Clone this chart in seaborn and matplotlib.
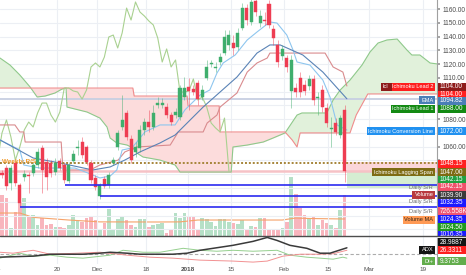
import numpy as np
import pandas as pd
import matplotlib
matplotlib.use("Agg")
import matplotlib.pyplot as plt
from matplotlib.patches import Rectangle
import seaborn as sns

# ---------------- data ----------------
opens = [1040.9, 1044.5, 1033.6, 1048.2, 1032.2, 1038.0, 1039.5, 1040.9, 1046.7, 1059.1,
         1048.9, 1048.2, 1041.6, 1049.6, 1046.7, 1035.1, 1049.6, 1059.1, 1063.4, 1059.8,
         1048.2, 1037.3, 1024.2, 1036.6, 1032.2, 1048.2, 1059.8, 1074.3, 1084.5, 1065.6,
         1056.2, 1059.1, 1072.1, 1077.9, 1074.3, 1090.3, 1090.3, 1088.8, 1083.0, 1083.0,
         1081.6, 1096.1, 1103.4, 1101.9, 1106.3, 1096.1, 1109.9, 1120.1, 1117.2, 1121.5,
         1128.0, 1133.9, 1135.3, 1132.4, 1146.2, 1160.7, 1150.6, 1165.5, 1149.8, 1152.0,
         1163.6, 1145.5, 1133.9, 1125.9, 1124.4, 1100.5, 1102.6, 1109.9, 1104.8, 1104.1,
         1109.2, 1095.4, 1101.2, 1088.1, 1072.9, 1077.2, 1068.5, 1086.7]
closes = [1039.5, 1031.5, 1044.5, 1033.6, 1019.1, 1040.2, 1038.7, 1046.7, 1056.2, 1043.1,
          1038.0, 1040.9, 1048.2, 1044.5, 1035.8, 1046.7, 1054.7, 1059.8, 1054.0, 1048.9,
          1035.8, 1030.7, 1032.2, 1031.5, 1039.5, 1050.3, 1070.0, 1079.4, 1067.1, 1050.3,
          1059.8, 1072.1, 1077.9, 1074.3, 1084.5, 1091.7, 1091.7, 1083.0, 1077.9, 1085.2,
          1102.6, 1102.6, 1100.5, 1099.7, 1094.6, 1101.2, 1117.9, 1120.8, 1117.9, 1125.1,
          1139.7, 1141.1, 1131.7, 1142.6, 1160.7, 1152.0, 1165.1, 1157.8, 1154.9, 1151.3,
          1148.4, 1138.9, 1121.5, 1131.0, 1117.9, 1123.0, 1099.7, 1099.7, 1100.5, 1109.2,
          1093.9, 1096.1, 1088.8, 1077.2, 1073.6, 1070.7, 1080.8, 1042.15]
highs = [1043.1, 1046.7, 1046.7, 1050.3, 1033.6, 1043.1, 1041.6, 1048.9, 1059.1, 1061.2,
         1051.8, 1050.3, 1051.8, 1051.8, 1048.9, 1048.9, 1057.6, 1064.9, 1067.1, 1061.2,
         1050.3, 1039.5, 1033.6, 1038.7, 1041.6, 1052.5, 1072.1, 1097.5, 1086.7, 1068.5,
         1063.4, 1075.8, 1080.8, 1086.7, 1090.3, 1096.1, 1095.4, 1091.7, 1085.2, 1088.1,
         1104.8, 1110.6, 1109.9, 1104.8, 1108.4, 1104.8, 1123.0, 1123.0, 1121.5, 1128.0,
         1144.8, 1144.8, 1141.1, 1146.2, 1164.4, 1163.6, 1167.5, 1168.0, 1159.3, 1157.8,
         1166.5, 1148.4, 1137.5, 1133.9, 1126.6, 1126.6, 1106.3, 1114.2, 1108.4, 1112.1,
         1112.1, 1099.7, 1104.8, 1091.7, 1081.6, 1080.8, 1083.0, 1090.3]
lows = [1037.3, 1028.6, 1028.6, 1031.5, 1016.9, 1035.0, 1026.4, 1038.7, 1044.5, 1026.4,
        1028.6, 1038.0, 1039.5, 1043.1, 1033.6, 1033.6, 1048.2, 1054.0, 1051.8, 1046.7,
        1033.6, 1028.6, 1022.0, 1030.0, 1030.0, 1046.7, 1057.6, 1072.1, 1064.9, 1048.2,
        1052.5, 1056.2, 1068.5, 1070.7, 1072.1, 1088.1, 1088.1, 1080.8, 1075.8, 1080.8,
        1079.4, 1093.9, 1086.7, 1097.5, 1090.3, 1093.9, 1108.4, 1117.9, 1114.2, 1119.3,
        1126.6, 1130.2, 1126.6, 1130.2, 1144.8, 1148.4, 1148.4, 1154.9, 1146.9, 1148.4,
        1146.2, 1133.9, 1117.9, 1123.0, 1114.2, 1088.1, 1096.1, 1096.1, 1097.5, 1101.2,
        1090.3, 1083.0, 1085.2, 1074.3, 1059.8, 1068.5, 1066.3, 1034.4]
volumes_k = [726, 673, 142, 425, 602, 673, 336, 372, 195, 319,
             195, 212, 159, 159, 142, 195, 372, 283, 248, 319,
             336, 283, 106, 230, 478, 124, 301, 336, 283, 195,
             159, 301, 301, 159, 195, 212, 230, 53, 106, 407,
             319, 407, 336, 354, 124, 319, 301, 248, 177, 301,
             301, 248, 230, 212, 283, 124, 177, 159, 319, 319,
             124, 106, 106, 142, 248, 1045, 743, 496, 372, 319,
             336, 195, 283, 230, 195, 142, 460, 726.558]
vol_ma_x = [-1, 4, 7, 15, 22, 35, 40, 44, 63, 66, 69, 77]
vol_ma = [407, 407, 330, 283, 250, 248, 250, 283, 283, 319, 310, 301]

lead_a_x = [-0.45, 1.8, 4.0, 6.3, 7.9, 9.7, 11.9, 13.5, 14.4, 14.6, 19.1, 22.0, 23.6, 24.3, 25.8,
            28.1, 29.4, 30.3, 31.7, 35.5, 38.9, 40.0, 51.5, 51.9, 55.1, 58.7, 60.9, 63.6, 66.3, 67.4,
            73.0, 74.4, 76.0, 78.2, 80.9, 82.7, 84.5, 86.5, 88.8, 91.0, 92.1, 93.9, 96.2, 97.8]
lead_a = [1124.4, 1119.3, 1112.1, 1103.4, 1096.1, 1096.8, 1099.0, 1101.9, 1102.6, 1088.8, 1085.2,
          1080.8, 1074.3, 1066.3, 1062.7, 1061.2, 1059.1, 1055.4, 1052.5, 1050.3, 1046.7, 1041.6,
          1041.6, 1059.8, 1061.2, 1063.4, 1066.3, 1070.0, 1083.0, 1084.5, 1084.5, 1093.9, 1101.2,
          1108.4, 1119.3, 1128.8, 1135.3, 1137.5, 1138.2, 1130.2, 1126.6, 1126.6, 1120.8, 1120.1]
lead_b_x = [-0.45, 29.4, 29.7, 41.6, 41.8, 48.8, 49.0, 63.6, 65.2, 66.3, 67.0, 78.2, 79.6, 82.2, 97.8]
lead_b = [1102.6, 1102.6, 1096.8, 1096.8, 1089.6, 1089.6, 1070.7, 1070.7, 1064.9, 1059.8, 1070.0,
          1070.0, 1083.0, 1098.3, 1098.3]
kijun_x = [-0.45, 2.9, 4.0, 4.9, 5.2, 13.3, 13.7, 19.8, 22.0, 26.1, 27.6, 30.3, 37.8, 39.6, 45.2,
           46.1, 48.3, 49.0, 52.8, 55.1, 57.3, 59.6, 60.2, 72.6, 74.4, 76.6, 77.5]
kijun = [1075.8, 1075.8, 1070.7, 1070.7, 1063.4, 1063.4, 1043.1, 1043.1, 1046.7, 1050.3, 1056.2,
         1059.8, 1061.2, 1070.7, 1070.7, 1077.2, 1083.0, 1088.8, 1099.0, 1114.2, 1120.8, 1124.4,
         1128.0, 1128.0, 1117.9, 1114.2, 1104.1]
tenkan_x = [-0.45, 4.0, 4.9, 8.5, 16.4, 19.3, 22.0, 24.3, 25.8, 27.0, 29.2, 32.1, 35.5, 38.9, 41.1,
            44.5, 46.7, 48.3, 49.7, 52.4, 55.1, 57.3, 60.2, 61.8, 64.0, 65.4, 66.3, 69.2, 72.1, 73.7,
            75.3, 77.5]
tenkan = [1064.9, 1057.6, 1046.7, 1044.5, 1044.5, 1040.9, 1037.3, 1038.7, 1043.1, 1057.6, 1059.1,
          1070.7, 1075.8, 1075.8, 1086.7, 1097.5, 1101.2, 1113.5, 1120.8, 1126.6, 1137.5, 1143.3,
          1150.6, 1149.8, 1141.1, 1130.2, 1121.5, 1119.3, 1108.4, 1096.1, 1075.8, 1072.1]
ema_x = [-0.45, 7.0, 13.0, 20.4, 24.3, 27.6, 31.0, 35.5, 38.9, 45.2, 52.8, 57.3, 60.2, 62.5, 67.6, 72.1, 77.5]
ema = [1064.9, 1051.8, 1048.2, 1043.1, 1045.3, 1050.3, 1056.2, 1062.7, 1068.5, 1088.8, 1110.6,
       1128.0, 1133.9, 1133.9, 1126.6, 1114.2, 1094.8]

adx_x = [-0.45, 7.0, 10.8, 18.2, 22.0, 24.3, 28.1, 31.0, 38.4, 41.6, 44.5, 51.9, 56.4, 59.6, 61.8,
         64.7, 68.5, 71.5, 73.7, 77.5]
adx = [14.3, 15.9, 18.9, 18.9, 20.5, 22.0, 20.5, 18.9, 18.9, 20.5, 25.1, 32.9, 39.1, 45.3, 40.6,
       32.9, 28.2, 20.5, 20.5, 28.99]
di_plus_x = [-0.45, 4.0, 7.0, 10.8, 14.6, 18.2, 24.3, 27.2, 31.7, 35.5, 40.7, 44.5, 48.3, 51.9,
             56.4, 61.8, 64.7, 68.5, 71.5, 74.4, 76.6, 77.5]
di_plus = [12.7, 20.5, 15.8, 17.4, 14.2, 12.7, 17.4, 25.1, 22.0, 22.0, 28.2, 25.1, 23.6, 25.1,
           23.6, 25.1, 17.4, 14.2, 12.7, 11.1, 14.2, 12.7]
di_minus_x = [-0.45, 2.5, 7.0, 10.8, 16.9, 22.0, 28.1, 33.3, 38.4, 44.5, 51.9, 56.4, 59.6, 63.1,
              67.0, 71.5, 74.4, 77.5]
di_minus = [22.0, 20.5, 25.1, 18.9, 20.5, 22.0, 17.4, 14.2, 12.7, 9.6, 8.1, 6.5, 8.1, 15.8,
            18.9, 18.9, 19.7, 25.1]
adx_level = 20

ema_last = 1094.82
weekly_rs = 1048.15
last_close = 1042.15
sr_levels = [1032.35, 1024.35, 1016.35]
sr_start = [14.2, 22.0, 4.0]
pos_stop, pos_entry, pos_target, pos_start = 1048.9, 1041.6, 1030.0, 77.6

tick_pos = [12.36, 21.35, 32.36, 41.8, 51.46, 63.37, 73.26, 82.47, 94.61]
tick_lab = ["20", "Dec", "18", "2018", "15", "Feb", "15", "Mar", "19"]
price_ticks = list(range(1000, 1170, 10))
shown_prices = {1060, 1080, 1110, 1120, 1130, 1140, 1150, 1160}

# ---------------- style ----------------
sns.set_theme(style="white")
plt.rcParams["font.family"] = ["Liberation Sans", "DejaVu Sans"]

W, H = 466, 275
PW = 437
XLIM = (-0.45, 97.75)
YLIM = (995.15, 1166.54)
GREEN, RED = "#3fae6d", "#ee3d52"
GRID = "#eceff4"

fig = plt.figure(figsize=(W / 100, H / 100), dpi=100, facecolor="white")
ax = fig.add_axes([0, (H - 236) / H, PW / W, 236 / H])
axv = ax.twinx()
axadx = fig.add_axes([0, (H - 264) / H, PW / W, 27 / H])
ax.set_zorder(3)
axv.set_zorder(2)
ax.patch.set_visible(False)
axv.patch.set_visible(False)

o = np.array(opens); c = np.array(closes); hi = np.array(highs); lo = np.array(lows)
idx = np.arange(len(o))
up = c >= o
cols = np.where(up, GREEN, RED)

# volume (own scale, overlaid at the bottom of the price pane)
axv.bar(idx, volumes_k, width=0.82, color=cols, alpha=0.38, linewidth=0)
sns.lineplot(x=vol_ma_x, y=vol_ma, ax=axv, color="#f5a36a", lw=0.8, sort=False, estimator=None)
axv.set_ylim(0, 4180)
axv.set_yticks([])
axv.set_ylabel("")
for s in axv.spines.values():
    s.set_visible(False)

# cloud
gx = np.linspace(XLIM[0], XLIM[1], 3000)
ga = np.interp(gx, lead_a_x, lead_a)
gb = np.interp(gx, lead_b_x, lead_b)
ax.fill_between(gx, ga, gb, where=ga >= gb, interpolate=True, color="#e1f1db", lw=0, zorder=1)
ax.fill_between(gx, ga, gb, where=ga < gb, interpolate=True, color="#fcdcdc", lw=0, zorder=1)

# position tool
ax.add_patch(Rectangle((pos_start, pos_entry), XLIM[1] - pos_start + 1, pos_stop - pos_entry,
                       facecolor="#fbd6d9", edgecolor="none", zorder=1.2))
ax.add_patch(Rectangle((pos_start, pos_target), XLIM[1] - pos_start + 1, pos_entry - pos_target,
                       facecolor="#d5edd2", edgecolor="none", zorder=1.2))

# horizontal price lines
ax.axhline(ema_last, color="#c7cfe2", lw=1.3, zorder=2)
ax.axhline(last_close, color="#f6c2c6", lw=1.8, zorder=2)
ax.axhline(weekly_rs, color="#a6853a", lw=1.4, ls=(0, (1, 1)), zorder=3.5)

# indicator lines
line_kw = dict(ax=ax, sort=False, estimator=None)
sns.lineplot(x=lead_a_x, y=lead_a, color="#8fc98b", lw=0.8, zorder=2.2, **line_kw)
sns.lineplot(x=lead_b_x, y=lead_b, color="#f08c8c", lw=0.8, zorder=2.2, **line_kw)
sns.lineplot(x=idx - 26, y=closes, color="#a9d190", lw=0.8, zorder=2.4, **line_kw)
sns.lineplot(x=kijun_x, y=kijun, color="#d98b8e", lw=0.8, zorder=2.6, **line_kw)
sns.lineplot(x=tenkan_x, y=tenkan, color="#8ec6ef", lw=0.8, zorder=2.7, **line_kw)
sns.lineplot(x=ema_x, y=ema, color="#5a83b6", lw=0.8, zorder=2.8, **line_kw)

# candles
ax.vlines(idx, lo, hi, colors=cols, lw=0.6, alpha=0.55, zorder=4)
ax.bar(idx, np.abs(c - o), bottom=np.minimum(o, c), width=0.68, color=cols,
       edgecolor=cols, linewidth=0.3, zorder=5)

# daily S/R
ax.hlines(sr_levels, sr_start, XLIM[1] + 1, colors="#2b2bf0", lw=1.2, zorder=6)

ax.set_xlim(*XLIM)
ax.set_ylim(*YLIM)
ax.set_xlabel(""); ax.set_ylabel("")
ax.set_xticks(tick_pos)
ax.set_yticks(price_ticks)
ax.yaxis.tick_right()
ax.set_yticklabels([f"{p:.2f}" if p in shown_prices else "" for p in price_ticks])
ax.tick_params(axis="x", labelbottom=False, length=0)
ax.tick_params(axis="y", length=2, color="#9a9a9a", labelsize=4.7, labelcolor="#4a4a4a", pad=2)
ax.grid(True, color=GRID, lw=0.8, zorder=0)
for k in ("top", "left", "bottom"):
    ax.spines[k].set_visible(False)
ax.spines["right"].set_color("#a0a0a0")
ax.spines["right"].set_linewidth(0.8)

# ADX pane
adx_kw = dict(ax=axadx, sort=False, estimator=None)
axadx.axhline(adx_level, color="#acacac", lw=0.8, ls=(0, (3, 2)))
sns.lineplot(x=di_plus_x, y=di_plus, color="#95cf8e", lw=0.7, **adx_kw)
sns.lineplot(x=di_minus_x, y=di_minus, color="#f29192", lw=0.7, **adx_kw)
sns.lineplot(x=adx_x, y=adx, color="#3a3a3a", lw=1.1, **adx_kw)
axadx.set_xlim(*XLIM)
axadx.set_ylim(3.5, 46.0)
axadx.set_xlabel(""); axadx.set_ylabel("")
axadx.set_yticks([])
axadx.set_xticks(tick_pos)
axadx.set_xticklabels(tick_lab)
axadx.tick_params(axis="x", length=0, labelsize=4.6, labelcolor="#505050", pad=2.2)
for t in axadx.get_xticklabels():
    if t.get_text() == "2018":
        t.set_fontweight("bold")
axadx.grid(True, axis="x", color=GRID, lw=0.8)
for k in ("top", "left", "bottom"):
    axadx.spines[k].set_visible(False)
axadx.spines["right"].set_color("#a0a0a0")
axadx.spines["right"].set_linewidth(0.8)

# ---------------- overlay: pane labels ----------------
ov = fig.add_axes([0, 0, 1, 1])
ov.set_xlim(0, W)
ov.set_ylim(H, 0)
ov.axis("off")
ov.patch.set_alpha(0)
ov.set_zorder(10)

Z = [10]


def tag(x0, x1, yc, text, bg, fg="white", fs=4.7, ha="left", h=8):
    z = Z[0]
    ov.add_patch(Rectangle((x0, yc - h / 2), x1 - x0, h, facecolor=bg, edgecolor="none", zorder=z))
    tx = x0 + 1.6 if ha == "left" else x1 - 1.6
    ov.text(tx, yc + 0.3, text, color=fg, fontsize=fs, ha=ha, va="center", zorder=z + 0.5)
    Z[0] += 1


XR = 438
right_tags = [
    (86.5, "1104.00", "#8e1b1b"), (94.5, "1104.00", "#ff1f1f"), (100.5, "1094.82", "#4a7eb6"),
    (108.5, "1088.00", "#138a13"), (131.0, "1072.00", "#2191f0"), (163.5, "1048.15", "#ff1f1f"),
    (172.0, "1047.00", "#7e6b14"), (179.5, "1042.15", "#20a040"), (186.5, "1042.15", "#f0506a"),
    (195.0, "1039.90", "#3b3b3b"), (202.5, "1032.35", "#1a1aff"), (211.0, "726.558K", "#f05574"),
    (219.0, "1024.35", "#1a1aff"), (227.0, "1024.50", "#1e9a1e"), (234.5, "1016.35", "#1a1aff"),
]
for yc, t, bg in right_tags:
    tag(XR, W + 2, yc, t, bg)
# cut by the pane separator
ov.add_patch(Rectangle((XR - 1, 236), W, 2.0, facecolor="white", edgecolor="none", zorder=Z[0]))
Z[0] += 1
ov.plot([0, W], [236, 236], color="#4d4d4d", lw=1.0, zorder=Z[0])
Z[0] += 1
for yc, t, bg in [(242.0, "28.9887", "#141414"), (249.8, "26.3311", "#ff1f1f"),
                  (261.0, "9.3753", "#63ad4c")]:
    tag(XR, W + 2, yc, t, bg)

name_tags = [
    (381, 392, 86.5, "Icl", "#8e1b1b", "white", "left"),
    (392, 435, 86.5, "Ichimoku Lead 2", "#ff1f1f", "white", "right"),
    (419, 435, 100.0, "EMA", "#4a7eb6", "white", "right"),
    (391, 435, 108.5, "Ichimoku Lead 1", "#138a13", "white", "right"),
    (367, 435, 131.0, "Ichimoku Conversion Line", "#2191f0", "white", "right"),
    (372, 435, 172.0, "Ichimoku Lagging Span", "#7e6b14", "white", "right"),
    (412, 435, 194.5, "Volume", "#b83a3f", "white", "right"),
    (403, 435, 219.5, "Volume MA", "#ff9a55", "#3a2a1a", "right"),
    (419, 435, 249.5, "ADX", "#141414", "white", "right"),
    (422, 435, 261.0, "DI+", "#63ad4c", "white", "right"),
]
for x0, x1, yc, t, bg, fg, ha in name_tags:
    tag(x0, x1, yc, t, bg, fg=fg, fs=4.1, ha=ha)

for yy in (188.0, 201.0, 212.0):
    ov.text(433, yy, "Daily S/R", color="#6a6a6a", fontsize=4.1, ha="right", va="center", zorder=5)
ov.text(2, 161, "Weekly R/S", color="#f39c2c", fontsize=4.6, fontweight="bold",
        ha="left", va="center", zorder=5)
ov.text(-4.5, 270, "Nov", color="#505050", fontsize=4.6, ha="center", va="center")

fig.savefig("out.png", dpi=100, facecolor="white")
